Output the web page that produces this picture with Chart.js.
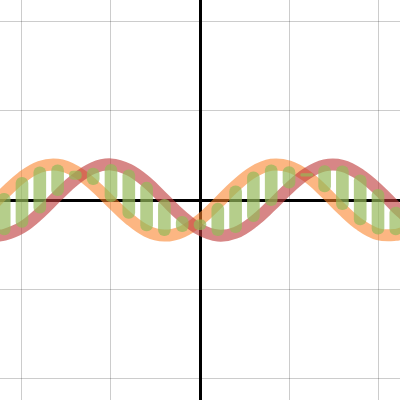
<!DOCTYPE html>
<html><head><meta charset="utf-8">
<script src="https://cdn.jsdelivr.net/npm/chart.js@4"></script>
<style>html,body{margin:0;padding:0;background:#fff}</style>
</head><body>
<canvas id="c" width="400" height="400"></canvas>
<script>
const xs = [-5.75,-5.5,-5,-4.5,-4,-3.5,-3,-2.5,-2,-1.5,-1,-0.5,0,0.5,1,1.5,2,2.5,3,3.5,4,4.5,5,5.5,5.75];
const orangeY = [-0.06,0.19,0.64,0.93,0.99,0.81,0.43,-0.05,-0.52,-0.87,-1.00,-0.89,-0.56,-0.09,0.40,0.79,0.99,0.94,0.67,0.23,-0.27,-0.70,-0.96,-0.98,-0.90];
const redY = [-1.00,-0.98,-0.77,-0.37,0.12,0.58,0.90,1.00,0.85,0.50,0.02,-0.46,-0.83,-1.00,-0.92,-0.61,-0.16,0.33,0.74,0.97,0.96,0.71,0.30,-0.20,-0.43];
const gridTicks = [-5,-2.5,0,2.5,5];

const orangePts = xs.map((x,i)=>({x, y: orangeY[i]}));
const redPts = xs.map((x,i)=>({x, y: redY[i]}));
const barPts = xs.map((x,i)=>({x, y:[orangeY[i], redY[i]]})).filter(p=>Math.abs(p.x)<=5.5);

const R = 200/35.6;
const gridOpts = {
  drawTicks:false, offset:false,
  color: c => c.tick && c.tick.value===0 ? '#000' : 'rgba(0,0,0,0.2)',
  lineWidth: c => c.tick && c.tick.value===0 ? 3 : 1
};
new Chart(document.getElementById('c'), {
  type:'bar',
  data:{datasets:[
    {type:'bar', data:barPts, backgroundColor:'rgba(150,185,90,0.7)', barThickness:12, borderRadius:6, borderSkipped:false, order:0},
    {type:'line', data:orangePts, borderColor:'rgba(250,130,40,0.58)', borderWidth:12, pointRadius:0, tension:0.4, fill:false, order:2},
    {type:'line', data:redPts, borderColor:'rgba(190,60,60,0.62)', borderWidth:12, pointRadius:0, tension:0.4, fill:false, order:1}
  ]},
  options:{
    responsive:false, animation:false, devicePixelRatio:1,
    layout:{padding:0},
    plugins:{legend:{display:false}, tooltip:{enabled:false}},
    scales:{
      x:{type:'linear', offset:false, min:-R, max:R, afterBuildTicks:a=>{a.ticks=gridTicks.map(v=>({value:v}));}, ticks:{display:false}, grid:gridOpts, border:{display:false}},
      y:{type:'linear', min:-R, max:R, afterBuildTicks:a=>{a.ticks=gridTicks.map(v=>({value:v}));}, ticks:{display:false}, grid:gridOpts, border:{display:false}}
    }
  }
});
</script>
</body></html>
